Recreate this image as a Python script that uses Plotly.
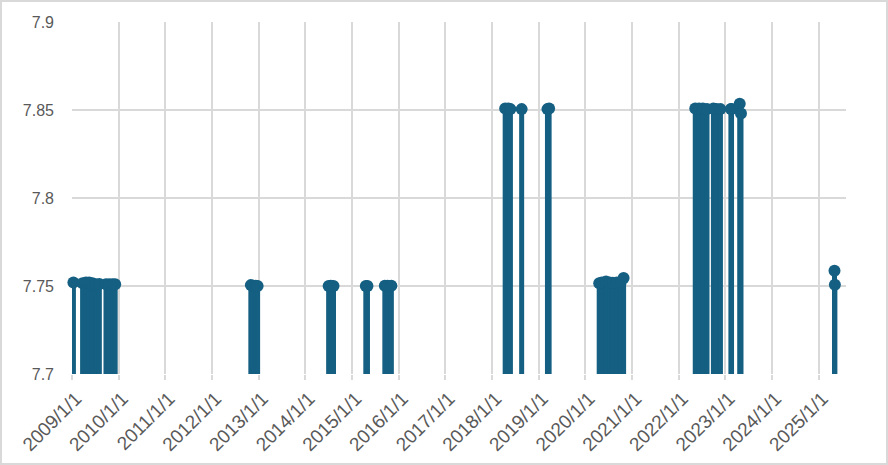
import plotly.graph_objects as go

# ---- data ----
dates = [
    "2009-01-12", "2009-03-25", "2009-04-20", "2009-05-15", "2009-06-10", "2009-07-05", "2009-08-03",
    "2009-09-24", "2009-10-20", "2009-11-15", "2009-12-05",
    "2012-11-01", "2012-11-20", "2012-12-10", "2012-12-24",
    "2014-07-03", "2014-07-20", "2014-08-10",
    "2015-04-20", "2015-05-03",
    "2015-09-16", "2015-10-08", "2015-11-06",
    "2018-04-15", "2018-05-10", "2018-05-26",
    "2018-08-22",
    "2019-03-12", "2019-03-25",
    "2020-04-20", "2020-05-10", "2020-06-12", "2020-07-10", "2020-08-05", "2020-09-05", "2020-10-05", "2020-10-28",
    "2022-05-12", "2022-06-10", "2022-07-10", "2022-08-12",
    "2022-10-01", "2022-10-25", "2022-11-25",
    "2023-02-15", "2023-02-20",
    "2023-04-25", "2023-05-05",
    "2025-05-06", "2025-05-09",
]
values = [
    7.752, 7.7515, 7.752, 7.752, 7.7515, 7.751, 7.7512,
    7.751, 7.751, 7.751, 7.751,
    7.7505, 7.7502, 7.7502, 7.750,
    7.750, 7.7502, 7.750,
    7.750, 7.750,
    7.7502, 7.7502, 7.7502,
    7.8508, 7.8508, 7.8505,
    7.8505,
    7.8505, 7.8508,
    7.7515, 7.752, 7.7525, 7.752, 7.7518, 7.752, 7.7522, 7.7545,
    7.8508, 7.8508, 7.8508, 7.8505,
    7.8508, 7.8505, 7.8505,
    7.8506, 7.8506,
    7.8535, 7.848,
    7.7587, 7.7507,
]
baseline = 7.7
tick_years = list(range(2009, 2026))
tick_labels = [f"{y}/1/1" for y in tick_years]
y_ticks = [7.7, 7.75, 7.8, 7.85, 7.9]
y_labels = ["7.7", "7.75", "7.8", "7.85", "7.9"]

COLOR = "#145f82"
GRID = "#d9d9d9"
TEXT = "#595959"

# stems
sx, sy = [], []
for d, v in zip(dates, values):
    sx += [d, d, None]
    sy += [baseline, v, None]

fig = go.Figure()
fig.add_trace(go.Scatter(x=sx, y=sy, mode="lines",
                         line=dict(color=COLOR, width=5), hoverinfo="skip",
                         showlegend=False))
fig.add_trace(go.Scatter(x=dates, y=values, mode="markers",
                         marker=dict(color=COLOR, size=12), cliponaxis=False,
                         showlegend=False))

L, R, T, B = 72, 42, 22, 91
W, H = 888, 465
pw, ph = W - L - R, H - T - B

def px2paper_x(q):
    return (q - L) / pw

def px2paper_y(p):
    return (H - B - p) / ph

fig.add_shape(type="rect", xref="paper", yref="paper",
              x0=px2paper_x(1), x1=px2paper_x(887),
              y0=px2paper_y(464), y1=px2paper_y(1),
              line=dict(color=GRID, width=2), layer="below")

fig.update_layout(
    width=W, height=H,
    margin=dict(l=L, r=R, t=T, b=B, autoexpand=False),
    paper_bgcolor="white", plot_bgcolor="white",
    font=dict(family="Liberation Sans, Arial, sans-serif", size=16, color=TEXT),
    hovermode=False,
    showlegend=False,
)
fig.update_xaxes(
    type="date",
    range=["2009-01-01", "2025-08-04"],
    tickvals=[f"{y}-01-01" for y in tick_years],
    ticktext=tick_labels,
    tickangle=-45,
    showgrid=True, gridcolor=GRID, gridwidth=2,
    ticks="outside", ticklen=5, tickcolor=GRID, tickwidth=2,
    showline=False, zeroline=False,
    automargin=False,
    ticklabelshift=4,
    tickfont=dict(size=19, color=TEXT),
)
fig.update_yaxes(
    range=[7.7, 7.9],
    tickvals=y_ticks, ticktext=y_labels,
    showgrid=True, gridcolor=GRID, gridwidth=2,
    showline=False, zeroline=False,
    automargin=False,
    ticklabelstandoff=17,
    tickfont=dict(size=16, color=TEXT),
)

fig.write_html("out.html", config={"displayModeBar": False},
               post_script="document.body.style.margin='0';")
